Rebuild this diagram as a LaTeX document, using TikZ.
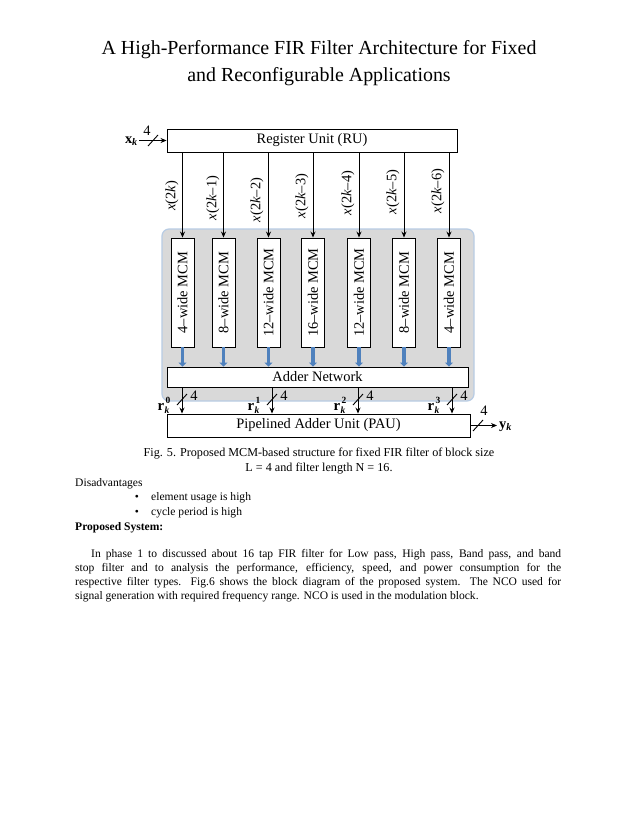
\documentclass[tikz,border=0pt]{standalone}
\usepackage{fontspec}
\setmainfont{Liberation Serif}
\usetikzlibrary{arrows.meta}
\definecolor{panelgray}{HTML}{D9D9D9}
\definecolor{panelblue}{HTML}{B8CCE4}
\definecolor{arrowblue}{HTML}{4F81BD}
\tikzset{
  blk/.style={draw, line width=0.9bp, fill=white, inner sep=0pt, font=\fontsize{14.5}{17}\selectfont},
  mcm/.style={blk, rotate=90, minimum width=109bp, minimum height=23bp},
  arr/.style={line width=0.9bp, -{Stealth[length=6bp,width=5bp]}},
  bluearr/.style={arrowblue, line width=3.2bp, -{Triangle[length=4bp,width=8bp]}},
  slash/.style={line width=0.9bp},
  lbl/.style={inner sep=0pt, font=\fontsize{14.5}{17}\selectfont},
  rbase/.style={inner sep=0pt, font=\fontsize{15}{16}\selectfont\bfseries},
  rscript/.style={inner sep=0pt, font=\fontsize{9.5}{10}\selectfont\bfseries},
  sig/.style={lbl, rotate=90},
  body/.style={inner sep=0pt, font=\fontsize{11.6}{14}\selectfont},
}
\begin{document}
\begin{tikzpicture}[x=1bp,y=-1bp]
\useasboundingbox[fill=white] (0,0) rectangle (638,826);

% title
\node[align=center, inner sep=0pt, font=\fontsize{20}{27}\selectfont] (title) at (319,63.5)
  {A High-Performance FIR Filter Architecture for Fixed\\ and Reconfigurable Applications};

% panel
\draw[panelblue, fill=panelgray, rounded corners=7bp, line width=1.2bp] (162,229) rectangle (474,401);

% blocks
\node[blk, minimum width=290bp, minimum height=23bp] (ru) at (312,140.5) {Register Unit (RU)};
\node[blk, minimum width=301bp, minimum height=20bp] (adder) at (317.5,377) {Adder Network};
\node[blk, minimum width=303bp, minimum height=23bp] (pau) at (318.5,425.5) {Pipelined Adder Unit (PAU)};

\node[mcm] (m1) at (182.5,292.5) {4--wide MCM};
\node[mcm] (m2) at (223.5,292.5) {8--wide MCM};
\node[mcm] (m3) at (268.5,292.5) {12--wide MCM};
\node[mcm] (m4) at (313,292.5) {16--wide MCM};
\node[mcm] (m5) at (359,292.5) {12--wide MCM};
\node[mcm] (m6) at (404,292.5) {8--wide MCM};
\node[mcm] (m7) at (449,292.5) {4--wide MCM};

% RU -> MCM -> adder
\foreach \m in {m1,m2,m3,m4,m5,m6,m7}{
  \draw[arr] (\m.east |- ru.south) -- (\m.east);
  \draw[bluearr] (\m.west) -- (\m.west |- adder.north);
}

% signal labels
\node[sig] (s1) at (172,196) {\textit{x}(2\textit{k})};
\node[sig] (s2) at (213,198) {\textit{x}(2\textit{k}--1)};
\node[sig] (s3) at (257,200) {\textit{x}(2\textit{k}--2)};
\node[sig] (s4) at (302,196) {\textit{x}(2\textit{k}--3)};
\node[sig] (s5) at (348,193) {\textit{x}(2\textit{k}--4)};
\node[sig] (s6) at (393,192) {\textit{x}(2\textit{k}--5)};
\node[sig] (s7) at (438,191) {\textit{x}(2\textit{k}--6)};

% input
\coordinate (xin) at (139,140.5);
\draw[arr] (xin) -- (ru.west);
\draw[slash] (148,146) -- (158,135);
\node[lbl] (fin) at (147,131) {4};
\node[lbl, anchor=east] (xk) at (138,141) {\textbf{x}\textsubscript{\textbf{\textit{k}}}};

% adder -> PAU
\foreach \x/\n in {182/0,272/1,358/2,452/3}{
  \coordinate (r\n) at (\x,0);
  \draw[arr] (adder.south -| r\n) -- (pau.north -| r\n);
  \draw[slash] (\x-5,405) -- (\x+5,394);
  \node[lbl] (f\n) at (\x+12,396) {4};
  \node[rbase, anchor=base east] (rl\n) at (\x-17.5,410) {r};
  \node[rscript, anchor=base west] (rp\n) at (\x-16.5,403.5) {\n};
  \node[rscript, anchor=base west] (rk\n) at (\x-17.5,413) {\itshape k};
}

% output
\coordinate (yout) at (497,425.5);
\draw[arr] (pau.east) -- (yout);
\draw[slash] (473,431) -- (483,420);
\node[lbl] (fout) at (484,411) {4};
\node[lbl, anchor=west] (yk) at (499,427) {\textbf{y}\textsubscript{\textbf{\textit{k}}}};

% caption
\node[body, align=center, font=\fontsize{12.2}{14.5}\selectfont] (cap) at (319,461)
  {Fig. 5. Proposed MCM-based structure for fixed FIR filter of block size\\ L = 4 and filter length N = 16.};

\node[body, anchor=west] (dis) at (75,484) {Disadvantages};
\node[body] (b1) at (137,498) {•};
\node[body, anchor=west] (t1) at (151,498) {element usage is high};
\node[body] (b2) at (137,513) {•};
\node[body, anchor=west] (t2) at (151,513) {cycle period is high};
\node[body, anchor=west] (ps) at (75,528) {\textbf{Proposed System:}};

\node[body, anchor=north west, text width=486bp, align=justify] (para) at (75,549)
  {\hspace*{16bp}In phase 1 to discussed about 16 tap FIR filter for Low pass, High pass, Band pass, and band\linebreak
   stop filter and to analysis the performance, efficiency, speed, and power consumption for the\linebreak
   respective filter types. Fig.6 shows the block diagram of the proposed system. The NCO used for\linebreak
   signal generation with required frequency range. NCO is used in the modulation block.};
\end{tikzpicture}
\end{document}
